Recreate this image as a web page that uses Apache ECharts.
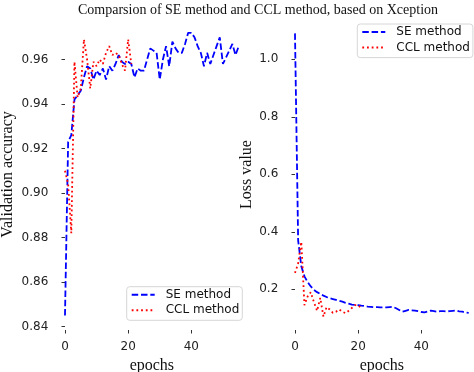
<!DOCTYPE html>
<html>
<head>
<meta charset="utf-8">
<script src="https://cdn.jsdelivr.net/npm/echarts@6/dist/echarts.min.js"></script>
<style>html,body{margin:0;padding:0;background:#fff;}#c{width:474px;height:372px;}</style>
</head>
<body>
<div id="c"></div>
<script>
const titleText = 'Comparsion of SE method and CCL method, based on Xception';
const seriesNames = ['SE method', 'CCL method'];
const xTicks = [0, 20, 40];
const accTicks = [0.84, 0.86, 0.88, 0.90, 0.92, 0.94, 0.96];
const lossTicks = [0.2, 0.4, 0.6, 0.8, 1.0];

const seAcc = [0.845, 0.923, 0.926, 0.942, 0.944, 0.946, 0.952, 0.957, 0.956, 0.951,
  0.955, 0.953, 0.956, 0.951, 0.957, 0.955, 0.958, 0.962, 0.959, 0.958,
  0.959, 0.958, 0.952, 0.956, 0.955, 0.955, 0.960, 0.965, 0.964, 0.963,
  0.951, 0.960, 0.966, 0.957, 0.968, 0.965, 0.963, 0.963, 0.967, 0.972,
  0.972, 0.970, 0.966, 0.963, 0.957, 0.963, 0.958, 0.962, 0.966, 0.970,
  0.958, 0.961, 0.964, 0.967, 0.962, 0.966];
const cclAcc = [0.910, 0.904, 0.882, 0.959, 0.943, 0.947, 0.969, 0.960, 0.947, 0.959,
  0.957, 0.960, 0.958, 0.963, 0.966, 0.962, 0.963, 0.962, 0.958, 0.955,
  0.969, 0.958];
const seLoss = [1.09, 0.37, 0.28, 0.245, 0.225, 0.21, 0.198, 0.19, 0.184, 0.178,
  0.173, 0.169, 0.166, 0.163, 0.160, 0.157, 0.153, 0.150, 0.147, 0.146,
  0.145, 0.143, 0.142, 0.140, 0.139, 0.138, 0.138, 0.137, 0.137, 0.137,
  0.138, 0.139, 0.134, 0.128, 0.122, 0.125, 0.128, 0.127, 0.126, 0.124,
  0.121, 0.120, 0.123, 0.126, 0.124, 0.122, 0.124, 0.124, 0.123, 0.124,
  0.125, 0.126, 0.123, 0.122, 0.119, 0.118];
const cclLoss = [0.257, 0.29, 0.365, 0.145, 0.175, 0.19, 0.155, 0.125, 0.17, 0.105,
  0.138, 0.13, 0.118, 0.122, 0.13, 0.122, 0.117, 0.125, 0.135, 0.145,
  0.145, 0.134];

const pairs = arr => arr.map((v, i) => [i, v]);
const tickFont = { fontFamily: 'DejaVu Sans', fontSize: 12, color: '#222' };
const nameFont = { fontFamily: 'Liberation Serif', fontSize: 16, color: '#111' };

function xAxis(g) {
  return {
    type: 'value', gridIndex: g, min: -2.75, max: 57.75,
    axisLine: { show: false }, splitLine: { show: false },
    axisTick: { show: true, customValues: xTicks, length: 3.5, lineStyle: { color: '#333', width: 1 } },
    axisLabel: Object.assign({ customValues: xTicks, margin: 11 }, tickFont),
    name: 'epochs', nameLocation: 'middle', nameGap: 24, nameTextStyle: nameFont
  };
}
function yAxis(g, min, max, ticks, dec, name, gap) {
  return {
    type: 'value', gridIndex: g, min: min, max: max,
    axisLine: { show: false }, splitLine: { show: false },
    axisTick: { show: true, customValues: ticks, length: 3.5, lineStyle: { color: '#333', width: 1 } },
    axisLabel: Object.assign({ customValues: ticks, margin: 8, formatter: v => v.toFixed(dec) }, tickFont),
    name: name, nameLocation: 'middle', nameGap: gap, nameTextStyle: nameFont
  };
}
const seStyle = { color: '#0000ff', width: 1.8, type: [6.5, 2.8] };
const cclStyle = { color: '#ff0000', width: 1.8, type: [1.8, 2.9] };
function line(name, data, g, style) {
  return { name: name, type: 'line', xAxisIndex: g, yAxisIndex: g, data: data,
    showSymbol: false, symbol: 'none', lineStyle: style, itemStyle: { color: style.color },
    animation: false, z: name === 'SE method' ? 2 : 3 };
}
function legend(left, top) {
  return {
    orient: 'vertical', left: left, top: top, data: seriesNames,
    itemWidth: 23, itemHeight: 14, itemGap: 3.6,
    padding: [2, 3, 4, 4],
    itemStyle: { opacity: 0, borderWidth: 0 },
    backgroundColor: '#fff', borderColor: '#d6d6d6', borderWidth: 1, borderRadius: 3,
    textStyle: { fontFamily: 'DejaVu Sans', fontSize: 12, color: '#111', padding: [0, 0, 0, 6] },
    selectedMode: false
  };
}
function grid(left) {
  return { left: left, top: 19, width: 191.1, height: 311, containLabel: false, outerBoundsMode: 'none' };
}

const chart = echarts.init(document.getElementById('c'), null, { renderer: 'canvas' });
chart.setOption({
  backgroundColor: '#fff',
  animation: false,
  title: { text: titleText, left: 253, top: -2, textAlign: 'center',
    textStyle: { fontFamily: 'Liberation Serif', fontSize: 14, fontWeight: 'normal', color: '#111' } },
  grid: [grid(56.3), grid(286.3)],
  xAxis: [xAxis(0), xAxis(1)],
  yAxis: [
    yAxis(0, 0.8385, 0.9782, accTicks, 2, 'Validation accuracy', 41),
    yAxis(1, 0.0584, 1.140, lossTicks, 1, 'Loss value', 32)
  ],
  legend: [legend(126.7, 286.7), legend(357.3, 24)],
  series: [
    line('SE method', pairs(seAcc), 0, seStyle),
    line('CCL method', pairs(cclAcc), 0, cclStyle),
    line('SE method', pairs(seLoss), 1, seStyle),
    line('CCL method', pairs(cclLoss), 1, cclStyle)
  ]
});
</script>
</body>
</html>
